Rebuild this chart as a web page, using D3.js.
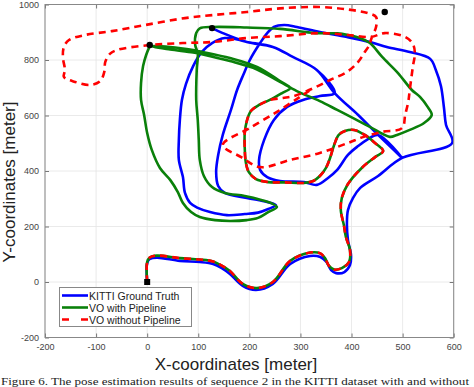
<!DOCTYPE html>
<html lang="en">
<head>
<meta charset="UTF-8">
<title>KITTI sequence 02 trajectories</title>
<script src="https://cdnjs.cloudflare.com/ajax/libs/d3/7.8.5/d3.min.js"></script>
<style>
    body { margin: 0; background: #fff; }
    svg { display: block; font-family: "Liberation Sans", Arial, Helvetica, sans-serif; }
    .tick text { font-size: 9px; fill: #444; }
</style>
</head>
<body>
<svg id="chart" width="474" height="387"></svg>
<script>
// axis ticks
const xTicks = [-200, -100, 0, 100, 200, 300, 400, 500, 600];
const yTicks = [-200, 0, 200, 400, 600, 800, 1000];

const seriesNames = ["KITTI Ground Truth", "VO with Pipeline", "VO without Pipeline"];

// ground truth trajectory, [x, y] in meters
const groundTruth = [
    [0,0],[0,68],[5,83],[19,88],[64,76],[103,72],[129,65],[146,50],[162,29],[187,-14],[213,-29],[246,-7],
    [280,65],[319,94],[339,90],[351,72],[360,43],[370,32],[386,36],[397,61],[399,97],[393,151],[391,205],
    [393,259],[403,303],[417,339],[452,382],[499,447],[597,501],[585,566],[581,627],[575,706],[565,764],
    [554,804],[514,829],[469,847],[436,865],[391,883],[338,901],[293,919],[268,926],[248,919],[235,897],
    [221,861],[201,800],[188,746],[176,692],[164,620],[148,530],[139,458],[135,396],[139,346],[152,321],
    [195,303],[235,288],[252,277],[237,263],[217,250],[191,245],[156,241],[123,252],[99,267],[84,285],
    [74,321],[70,378],[62,440],[62,512],[64,584],[68,656],[76,714],[90,778],[107,829],[127,861],[152,879],
    [181,872],[195,865],[246,847],[285,811],[332,764],[367,681],[413,602],[452,530],[499,447],[452,530],
    [430,512],[413,490],[393,458],[372,404],[354,375],[332,350],[307,360],[260,364],[235,378],[221,404],
    [219,440],[229,512],[248,584],[274,631],[305,656],[338,670],[367,681],[332,764],[285,811],[246,847],
    [195,865],[148,897],[127,915]
];

// both VO runs share the first part of the drive
const voStart = [
    [0,0],[0,72],[5,88],[19,95],[64,86],[103,81],[129,74],[146,59],[162,40],[187,-7],[215,-22],[246,0],
    [280,76],[319,106],[339,103],[348,86],[356,58],[366,45],[381,50],[395,72],[397,115],[389,162],[385,205],
    [379,259],[381,303],[393,353],[420,411],[446,450],[462,472]
];
const voMiddleLoop = [
    [446,501],[426,530],[405,548],[387,544],[375,530],[366,494],[358,447],[350,411],[338,382],[325,364],
    [307,357],[270,359],[237,360],[213,371],[199,396],[193,432],[191,483],[191,537],[195,580],[203,616],
    [219,638],[240,656]
];

// VO with pipeline, after the shared part
const withPipelineRest = [
    [264,681],[280,699],[260,724],[215,775],[162,807],[109,829],[90,836],[45,847],[5,850],[45,838],[90,827],
    [109,820],[162,796],[215,766],[260,721],[293,688],[338,652],[372,620],[407,587],[436,559],[475,523],
    [489,530],[514,548],[542,573],[557,602],[549,631],[534,667],[518,692],[491,753],[460,811],[436,861],
    [416,879],[393,890],[372,896],[329,897],[260,912],[195,917],[129,919],[103,914],[96,897],[94,854],
    [99,825],[97,764],[96,656],[99,584],[101,512],[103,440],[111,382],[127,342],[152,321],[191,310],
    [225,295],[242,285],[254,270],[237,252],[217,231],[195,223],[162,220],[133,223],[103,234],[86,252],
    [70,285],[60,324],[45,368],[25,411],[9,476],[0,537],[-6,602],[-12,656],[-12,717],[-8,778],[-2,818],[5,850]
];

// VO without pipeline, after the shared part
const withoutPipelineRest = [
    [266,663],[287,670],[326,699],[358,728],[391,757],[413,793],[426,829],[434,851],[440,883],[448,919],
    [448,955],[432,969],[393,982],[338,991],[260,986],[195,973],[129,962],[74,951],[-4,926],[-69,904],
    [-122,890],[-153,872],[-163,847],[-165,811],[-161,764],[-163,739],[-141,721],[-112,710],[-92,724],
    [-84,757],[-82,793],[-73,822],[-59,836],[5,854],[70,861],[129,865],[195,879],[260,886],[338,897],
    [393,890],[438,883],[465,897],[505,883],[520,858],[524,825],[520,775],[514,692],[511,649],[505,602],
    [499,555],[460,541],[424,523],[393,501],[338,465],[280,440],[221,414],[184,450],[148,494],[201,555],
    [254,613],[299,667],[326,699]
];

// end markers (black dots)
const endX = [127, 5, 465];
const endY = [915, 854, 973];

const withPipeline = voStart.concat(voMiddleLoop, withPipelineRest);
const withoutPipeline = voStart.concat(voMiddleLoop, withoutPipelineRest);

const colors = ["#0000ff", "#0a800a", "#ff0000"];
const dashes = [null, null, "7,5"];
const series = [groundTruth, withPipeline, withoutPipeline];

const svg = d3.select("#chart");
const x = d3.scaleLinear().domain([-200, 600]).range([45, 453.7]);
const y = d3.scaleLinear().domain([-200, 1000]).range([337.5, 4.5]);

// grid
svg.append("g").selectAll("line").data(xTicks).join("line")
    .attr("x1", d => x(d)).attr("x2", d => x(d))
    .attr("y1", y(-200)).attr("y2", y(1000))
    .attr("stroke", "#e4e4e4").attr("stroke-width", 0.8);
svg.append("g").selectAll("line").data(yTicks).join("line")
    .attr("x1", x(-200)).attr("x2", x(600))
    .attr("y1", d => y(d)).attr("y2", d => y(d))
    .attr("stroke", "#e4e4e4").attr("stroke-width", 0.8);

// clip for trajectories
svg.append("clipPath").attr("id", "plotClip")
    .append("rect")
    .attr("x", x(-200)).attr("y", y(1000))
    .attr("width", x(600) - x(-200)).attr("height", y(-200) - y(1000));

const line = d3.line()
    .x(d => x(d[0]))
    .y(d => y(d[1]))
    .curve(d3.curveCatmullRom.alpha(0.5));

const plot = svg.append("g").attr("clip-path", "url(#plotClip)");
series.forEach((s, i) => {
    plot.append("path")
        .datum(s)
        .attr("d", line)
        .attr("fill", "none")
        .attr("stroke", colors[i])
        .attr("stroke-width", 2.6)
        .attr("stroke-linejoin", "round")
        .attr("stroke-dasharray", dashes[i]);
});

// start marker
plot.append("rect")
    .attr("x", x(0) - 3).attr("y", y(0) - 3)
    .attr("width", 6).attr("height", 6)
    .attr("fill", "#000");

// end markers
plot.selectAll("circle.end").data(endX).join("circle")
    .attr("class", "end")
    .attr("cx", d => x(d))
    .attr("cy", (d, i) => y(endY[i]))
    .attr("r", 3.2)
    .attr("fill", "#000");

// axes (ticks pointing inward like MATLAB)
const fmt = d => String(d);
svg.append("g")
    .attr("transform", "translate(0," + y(-200) + ")")
    .call(d3.axisBottom(x).tickValues(xTicks).tickFormat(fmt).tickSizeInner(-4).tickSizeOuter(0).tickPadding(6))
    .call(g => g.select(".domain").remove());
svg.append("g")
    .attr("transform", "translate(" + x(-200) + ",0)")
    .call(d3.axisLeft(y).tickValues(yTicks).tickFormat(fmt).tickSizeInner(-4).tickSizeOuter(0).tickPadding(6))
    .call(g => g.select(".domain").remove());
svg.append("g")
    .attr("transform", "translate(0," + y(1000) + ")")
    .call(d3.axisTop(x).tickValues(xTicks).tickFormat("").tickSizeInner(-4).tickSizeOuter(0))
    .call(g => g.select(".domain").remove());
svg.append("g")
    .attr("transform", "translate(" + x(600) + ",0)")
    .call(d3.axisRight(y).tickValues(yTicks).tickFormat("").tickSizeInner(-4).tickSizeOuter(0))
    .call(g => g.select(".domain").remove());
svg.selectAll(".tick line").attr("stroke", "#777");

// frame
svg.append("rect")
    .attr("x", x(-200)).attr("y", y(1000))
    .attr("width", x(600) - x(-200)).attr("height", y(-200) - y(1000))
    .attr("fill", "none").attr("stroke", "#888").attr("stroke-width", 1);

// axis labels
svg.append("text")
    .attr("x", 236).attr("y", 370)
    .attr("text-anchor", "middle")
    .style("font-size", "17px").style("fill", "#222")
    .text("X-coordinates [meter]");
svg.append("text")
    .attr("transform", "translate(15,182) rotate(-90)")
    .attr("text-anchor", "middle")
    .style("font-size", "17px").style("fill", "#222")
    .text("Y-coordinates [meter]");

// legend
const legend = svg.append("g");
legend.append("rect")
    .attr("x", 59.5).attr("y", 287.5).attr("width", 132).attr("height", 39)
    .attr("fill", "#fff").attr("stroke", "#888").attr("stroke-width", 1);
const legendY = [295.5, 307.5, 319.5];
seriesNames.forEach((name, i) => {
    legend.append("line")
        .attr("x1", 62).attr("x2", 88)
        .attr("y1", legendY[i]).attr("y2", legendY[i])
        .attr("stroke", colors[i]).attr("stroke-width", 2.6)
        .attr("stroke-dasharray", i === 2 ? "7,12" : null);
    legend.append("text")
        .attr("x", 89).attr("y", legendY[i] + 4)
        .style("font-size", "10.5px").style("fill", "#222")
        .text(name);
});

// caption line at the bottom of the picture
svg.append("text")
    .attr("x", 1).attr("y", 384.5)
    .attr("textLength", 468).attr("lengthAdjust", "spacingAndGlyphs")
    .style("font-family", "'Liberation Serif', 'Times New Roman', serif")
    .style("font-size", "10.5px").style("fill", "#222")
    .text("Figure 6. The pose estimation results of sequence 2 in the KITTI dataset with and without");
</script>
</body>
</html>
